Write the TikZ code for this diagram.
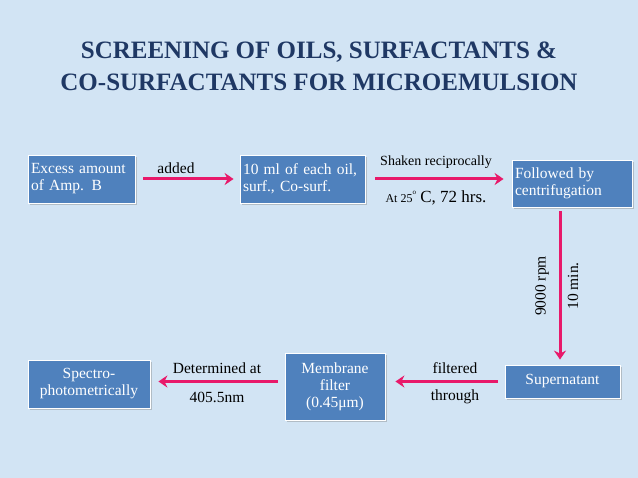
\documentclass[tikz,border=0pt]{standalone}
\usepackage{fontspec}
\setmainfont{Liberation Serif}
\usetikzlibrary{shadows,arrows.meta}
\definecolor{bg}{HTML}{D2E4F4}
\definecolor{tit}{HTML}{1F3864}
\definecolor{boxb}{HTML}{4F81BD}
\definecolor{arr}{HTML}{E8196A}
\begin{document}
\begin{tikzpicture}[x=1pt,y=-1pt,
  box/.style={draw=white,line width=0.8pt,fill=boxb,text=white,font=\fontsize{15.5}{17}\selectfont,drop shadow={opacity=0.4,shadow xshift=2pt,shadow yshift=-2pt},inner sep=2pt},
  arw/.style={draw=arr,line width=3pt,-{Stealth[length=9pt,width=12pt]}},
  lab/.style={font=\fontsize{15.5}{17}\selectfont,text=black}]
\fill[bg] (0,0) rectangle (638,478);
\useasboundingbox (0,0) rectangle (638,478);
\node[font=\bfseries\fontsize{25}{32}\selectfont,text=tit,align=center] (title) at (319,66) {SCREENING OF OILS, SURFACTANTS \&\\CO-SURFACTANTS FOR MICROEMULSION};
\node[box,minimum width=107pt,minimum height=48pt,align=left,text width=101pt] (b1) at (81.5,179) {Excess amount\\ of Amp. B};
\node[box,minimum width=125pt,minimum height=48pt,align=left,text width=119pt] (b2) at (302.5,179) {10 ml of each oil,\\surf., Co-surf.};
\node[box,minimum width=120pt,minimum height=47pt,align=left,text width=114pt] (b3) at (572,183.5) {Followed by\\centrifugation};
\node[box,minimum width=115pt,minimum height=33pt] (b4) at (562.5,381.5) {Supernatant};
\node[box,minimum width=100pt,minimum height=67pt,align=center] (b5) at (335,386.5) {Membrane\\filter\\(0.45μm)};
\node[box,minimum width=122pt,minimum height=48pt,align=center] (b6) at (89,384) {Spectro-\\photometrically};
\draw[arw] ([xshift=8pt]b1.east) -- ([xshift=-6pt]b2.west);
\draw[arw] ([xshift=10pt]b2.east) -- ([xshift=-8pt]b3.west |- b2.east);
\draw[arw] ([xshift=-12pt,yshift=-4pt]b3.south) -- ([xshift=-2.5pt,yshift=5pt]b4.north);
\draw[arw] ([xshift=-7pt]b4.west) -- ([xshift=10pt]b5.east |- b4.west);
\draw[arw] ([xshift=-7pt]b5.west |- b4.west) -- ([xshift=8pt]b6.east |- b4.west);
\node[lab] (l1) at (176,168) {added};
\node[lab,font=\fontsize{14}{15}\selectfont] (l2) at (436,162) {Shaken reciprocally};
\node[lab] (l3) at (436,198) {{\fontsize{12}{13}\selectfont At 25}\raisebox{1.2ex}{\fontsize{7}{8}\selectfont o}\fontsize{17}{18}\selectfont\ C, 72 hrs.};
\node[lab,rotate=90] (l4) at (542,286) {9000 rpm};
\node[lab,rotate=90] (l5) at (573,286) {10 min.};
\node[lab] (l6) at (455,368) {filtered};
\node[lab] (l7) at (455,397) {through};
\node[lab] (l8) at (217,368) {Determined at};
\node[lab] (l9) at (217,397) {405.5nm};
\end{tikzpicture}
\end{document}
